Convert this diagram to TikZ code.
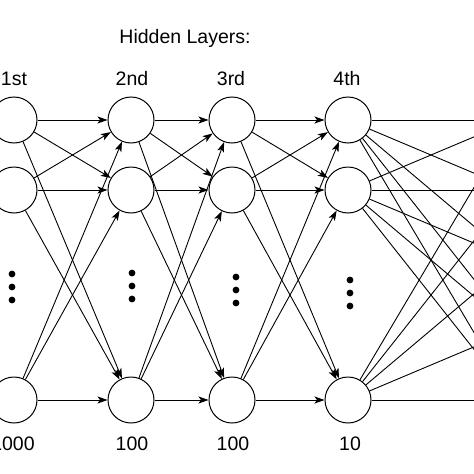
\documentclass[tikz,border=0pt]{standalone}
\usepackage{fontspec}
\setmainfont{Liberation Sans}
\usetikzlibrary{arrows.meta, positioning}

\begin{document}
\begin{tikzpicture}[x=1pt, y=-1pt,
    neuron/.style={circle, draw, line width=1pt, minimum size=46pt, inner sep=0pt},
    link/.style={line width=0.9pt, -{Stealth[length=10pt, width=7pt, inset=2.5pt]}},
    wire/.style={line width=0.9pt},
    txt/.style={anchor=base, font=\fontsize{19.5}{22}\selectfont}]
  \path[use as bounding box, clip] (0,0) rectangle (474,474);
  % the neurons of the four hidden layers
  \foreach \l/\x in {1/14, 2/131, 3/232, 4/348}
    \foreach \r/\y in {a/120, b/190, c/400}
      \node[neuron] (n\l\r) at (\x,\y) {};
  % the output layer lies beyond the right edge
  \foreach \k/\y in {1/120, 2/190, 3/260, 4/330, 5/400}
    \coordinate (o\k) at (514,\y);

  % full connections between the hidden layers
  \foreach \l/\m in {1/2, 2/3, 3/4}
    \foreach \r in {a,b,c}
      \foreach \s in {a,b,c}
        \draw[link] (n\l\r) -- (n\m\s);
  \foreach \r in {a,b,c}
    \foreach \k in {1,...,5}
      \draw[wire] (n4\r) -- (o\k);

  % vertical dots for the skipped neurons
  \foreach \x/\y in {12/274, 132/273, 236/277, 350/280}
    \foreach \d in {0,13,26}
      \fill (\x,\y+\d) circle (3.4pt);

  \node[txt] (title) at (185,43) {Hidden Layers:};
  \node[txt] (h1) at (14,85) {1st};
  \node[txt] (h2) at (132,85) {2nd};
  \node[txt] (h3) at (231,85) {3rd};
  \node[txt] (h4) at (347,85) {4th};
  \node[txt] (s1) at (13,450) {1000};
  \node[txt] (s2) at (132,450) {100};
  \node[txt] (s3) at (233,450) {100};
  \node[txt] (s4) at (350,450) {10};
\end{tikzpicture}
\end{document}
